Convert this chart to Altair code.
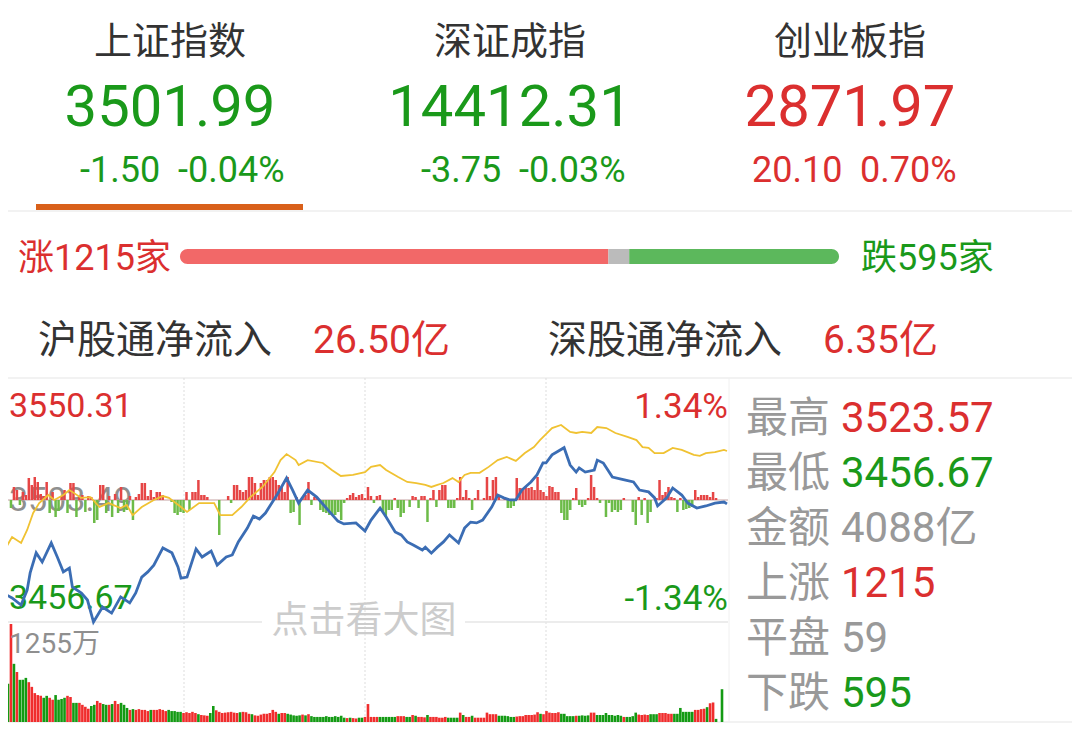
import altair as alt
import pandas as pd

# ---------------- data ----------------
index_names = ["上证指数", "深证成指", "创业板指"]
index_values = ["3501.99", "14412.31", "2871.97"]
index_changes = ["-1.50", "-3.75", "20.10"]
index_pcts = ["-0.04%", "-0.03%", "0.70%"]

breadth_labels = ["涨", "平", "跌"]
breadth_counts = [1215, 59, 595]

hk_labels = ["沪股通净流入", "深股通净流入"]
hk_values = ["26.50亿", "6.35亿"]

prev_close = 3503.49
price_top = 3550.31
price_bottom = 3456.67

price_minutes = [0, 3, 6, 8, 9, 11, 13, 16, 18, 20, 22, 23, 26, 28, 30, 33, 36, 39, 42, 44,
                 46, 48, 50, 53, 56, 58, 59, 61, 64, 66, 69, 71, 74, 76, 78, 81, 83, 85, 87, 91,
                 94, 96, 98, 101, 104, 108, 111, 113, 117, 120, 122, 125, 127, 130, 132, 134, 136, 139, 140, 142,
                 144, 146, 148, 151, 153, 155, 157, 159, 162, 164, 166, 168, 170, 172, 175, 177, 179, 180, 182, 186,
                 188, 190, 191, 193, 196, 197, 199, 202, 206, 209, 211, 214, 216, 217, 220, 222, 225, 227, 230, 233,
                 236, 239, 240]
price_values = [3467.8, 3465.9, 3463.2, 3468.9, 3475.5, 3483.2, 3479.7, 3487.0, 3481.6, 3475.9,
                3477.4, 3470.1, 3467.8, 3465.1, 3456.67, 3462.4, 3460.1, 3466.3, 3464.0, 3467.8,
                3473.9, 3475.9, 3478.5, 3485.1, 3483.2, 3477.8, 3473.5, 3473.9, 3484.7, 3481.6,
                3483.9, 3478.5, 3481.6, 3482.4, 3487.4, 3492.7, 3497.3, 3496.2, 3498.5, 3505.8,
                3511.9, 3507.3, 3502.3, 3507.3, 3504.6, 3499.3, 3495.4, 3494.3, 3494.7, 3491.6,
                3495.8, 3500.4, 3497.0, 3491.2, 3490.1, 3487.4, 3486.2, 3484.3, 3485.4, 3483.1,
                3485.4, 3487.4, 3490.1, 3487.0, 3492.7, 3495.0, 3494.7, 3495.8, 3500.8, 3505.4,
                3504.3, 3503.5, 3503.5, 3507.3, 3510.4, 3513.1, 3517.7, 3517.7, 3520.8, 3523.57,
                3516.9, 3514.2, 3515.8, 3514.2, 3515.0, 3518.8, 3517.7, 3512.3, 3511.2, 3510.4,
                3507.3, 3506.6, 3504.3, 3501.2, 3504.3, 3508.1, 3505.4, 3502.3, 3500.4, 3501.2,
                3502.3, 3502.7, 3501.99]

avg_minutes = [0, 3, 6, 8, 10, 12, 15, 17, 20, 22, 26, 29, 32, 35, 39, 41, 43, 46, 50, 53,
               55, 59, 61, 65, 70, 72, 76, 79, 82, 86, 90, 92, 94, 97, 98, 101, 106, 109, 112, 116,
               120, 122, 125, 127, 131, 134, 137, 140, 142, 144, 146, 149, 151, 153, 155, 158, 161, 164, 167, 170,
               173, 176, 178, 180, 182, 185, 188, 190, 192, 195, 197, 200, 203, 207, 210, 212, 214, 216, 219, 222,
               225, 229, 231, 233, 236, 239, 240]
avg_values = [3483.2, 3489.3, 3487.0, 3492.0, 3498.5, 3502.3, 3505.4, 3503.5, 3505.4, 3507.3,
              3504.3, 3504.6, 3500.8, 3502.3, 3500.4, 3501.6, 3497.7, 3500.8, 3503.5, 3505.0,
              3504.3, 3500.8, 3498.9, 3502.3, 3502.3, 3497.7, 3497.7, 3500.8, 3504.6, 3508.5,
              3514.2, 3518.8, 3521.1, 3518.8, 3516.9, 3518.8, 3517.7, 3515.0, 3512.7, 3513.1,
              3514.2, 3516.2, 3516.9, 3515.0, 3512.3, 3510.4, 3510.0, 3509.3, 3508.5, 3509.3,
              3510.0, 3511.9, 3510.4, 3513.1, 3513.9, 3513.9, 3516.2, 3518.8, 3520.0, 3518.5,
              3521.5, 3523.8, 3526.5, 3528.8, 3531.1, 3532.3, 3529.6, 3529.2, 3529.6, 3529.2,
              3531.5, 3531.1, 3529.2, 3527.7, 3526.5, 3523.8, 3523.5, 3521.5, 3521.5, 3523.5,
              3522.7, 3520.8, 3520.4, 3521.5, 3521.9, 3522.7, 3522.3]

flow_values = [0, -8, 13, 10, -5, 8, 5, 22, 15, 23, 18, 6, 4, 18, -13, 8, -17, -11, 4, 10,
               -13, 17, 17, -17, 3, 5, -12, 4, 3, -23, -20, 15, 15, -13, 4, -17, 6, -13, 13, -12,
               -10, 4, -20, 3, 6, 17, 17, 4, 10, 3, 8, 8, 5, 0, 0, -2, -13, -15, -12, -13,
               8, -10, 8, 8, 20, 5, 5, 3, 0, 0, 0, -35, 0, 0, 4, -3, 15, 15, 10, 8,
               10, 23, 23, 17, 5, 17, 20, 20, 23, 23, 20, 15, 13, 8, 23, -13, -12, 3, -25, 3,
               5, 18, -5, 3, 2, -10, -12, -13, -15, -15, -15, -12, -20, -3, 2, 5, 7, 3, 5, 6,
               2, 13, 4, -3, 4, 5, -12, -17, -10, -10, 2, -8, -17, -13, 0, -7, 4, 3, -8, 4,
               4, -22, 2, 10, -7, 10, 15, 15, -8, -8, -8, 2, 23, 3, 10, 2, -10, 2, 10, 0,
               2, 23, 4, 20, 23, 3, 0, 2, -8, -8, -6, 22, 12, 12, 13, 12, 13, 10, 23, 10,
               8, 4, 14, 13, 8, 8, -13, -20, -20, -10, 2, 12, -5, -7, -5, 2, 25, 13, 2, -3,
               0, -17, -3, -12, -10, -12, -10, 2, 0, 0, -12, -25, 3, -15, 2, -23, -12, 0, 2, 20,
               5, 8, 13, 3, 2, -12, 2, -10, -9, -8, -7, 10, 3, 5, 5, 5, 3, 8, 2, 0,
               0]

volume_values = [490, 1255, 745, 640, 540, 540, 565, 510, 450, 370, 345, 335, 310, 335, 310, 285, 345, 285, 295, 310,
                 335, 320, 245, 245, 245, 220, 195, 170, 205, 220, 270, 245, 230, 220, 220, 230, 270, 230, 245, 220,
                 180, 155, 165, 155, 165, 155, 155, 140, 155, 155, 155, 165, 155, 140, 155, 140, 140, 130, 130, 115,
                 125, 115, 130, 115, 100, 90, 85, 80, 115, 205, 150, 130, 115, 120, 125, 130, 120, 115, 125, 130,
                 125, 105, 100, 85, 80, 95, 105, 105, 115, 155, 130, 105, 115, 115, 105, 95, 85, 80, 85, 95,
                 85, 100, 75, 65, 65, 65, 65, 75, 65, 65, 75, 65, 80, 55, 50, 55, 50, 45, 55, 55,
                 65, 230, 65, 65, 65, 65, 65, 65, 65, 65, 65, 75, 75, 75, 65, 65, 90, 80, 65, 65,
                 60, 90, 65, 65, 65, 55, 55, 65, 55, 55, 55, 55, 120, 90, 65, 65, 80, 55, 55, 55,
                 55, 120, 100, 100, 100, 80, 80, 80, 75, 65, 65, 70, 75, 75, 90, 90, 90, 95, 125, 105,
                 100, 140, 120, 115, 115, 125, 105, 105, 75, 75, 75, 80, 80, 85, 80, 85, 120, 120, 90, 90,
                 90, 115, 90, 90, 80, 90, 80, 65, 65, 65, 75, 120, 95, 90, 95, 90, 100, 100, 100, 115,
                 115, 115, 105, 105, 105, 105, 180, 130, 130, 130, 130, 155, 155, 165, 170, 190, 240, 250, 40, 0,
                 420]
volume_up = [0, 1, 0, 1, 0, 0, 0, 1, 1, 1, 1, 1, 0, 0, 1, 1, 0, 0, 0, 0,
             1, 1, 0, 0, 1, 1, 1, 1, 0, 0, 1, 1, 0, 0, 1, 0, 1, 1, 0, 0,
             0, 1, 0, 1, 1, 1, 1, 1, 0, 1, 1, 1, 1, 1, 0, 0, 0, 0, 0, 1,
             1, 1, 1, 1, 0, 1, 1, 1, 0, 0, 1, 1, 1, 1, 1, 1, 1, 1, 0, 1,
             1, 1, 0, 1, 1, 1, 1, 1, 1, 1, 1, 0, 1, 1, 0, 0, 0, 0, 0, 1,
             0, 1, 0, 0, 0, 0, 0, 0, 0, 0, 0, 0, 0, 0, 1, 0, 1, 1, 0, 0,
             1, 1, 1, 1, 1, 0, 0, 0, 0, 0, 0, 1, 1, 1, 0, 0, 1, 0, 1, 1,
             1, 0, 1, 1, 1, 1, 1, 1, 0, 0, 0, 0, 1, 0, 1, 1, 0, 1, 1, 1,
             1, 1, 1, 1, 1, 0, 0, 0, 0, 0, 0, 1, 1, 1, 1, 1, 1, 1, 1, 0,
             1, 1, 1, 1, 1, 1, 0, 0, 0, 0, 0, 1, 0, 0, 0, 0, 1, 1, 0, 0,
             0, 0, 0, 0, 0, 0, 0, 1, 0, 0, 0, 0, 1, 1, 1, 1, 0, 0, 0, 1,
             1, 1, 1, 1, 0, 0, 0, 0, 0, 0, 0, 1, 1, 1, 1, 0, 1, 1, 0, 0,
             0]
volume_max_label = "1255万"
grid_minutes = [60, 120, 180]

stat_labels = ["最高", "最低", "金额", "上涨", "平盘", "下跌"]
stat_values = ["3523.57", "3456.67", "4088亿", "1215", "59", "595"]

# ---------------- styles ----------------
FONT = "Roboto, 'Noto Sans CJK SC', sans-serif"
RED = "#db2f2f"
GREEN = "#1a991a"
GRAY = "#999999"
DARK = "#333333"
ONE = pd.DataFrame({"k": [0]})


def label(text, x, y, size, color, align="left"):
    return alt.Chart(pd.DataFrame({"t": [text]})).mark_text(
        align=align, baseline="middle", fontSize=size, color=color, font=FONT
    ).encode(x=alt.value(x - 8), y=alt.value(y - 8), text="t:N")


def hline(x1, x2, y, color, width=1):
    return alt.Chart(ONE).mark_rule(color=color, strokeWidth=width).encode(
        x=alt.value(x1 - 8), x2=alt.value(x2 - 8), y=alt.value(y - 8))


def vline(x, y1, y2, color, width=1):
    return alt.Chart(ONE).mark_rule(color=color, strokeWidth=width).encode(
        x=alt.value(x - 8), y=alt.value(y1 - 8), y2=alt.value(y2 - 8))


layers = []

# header
centers = [170, 510, 850]
chg_left = [80, 421, 752]
pct_left = [178, 519, 860]
for i in range(3):
    col = GREEN if index_changes[i].startswith("-") else RED
    layers.append(label(index_names[i], centers[i], 43, 38, DARK, "center"))
    layers.append(label(index_values[i], centers[i], 109, 58, col, "center"))
    layers.append(label(index_changes[i], chg_left[i], 171, 36, col))
    layers.append(label(index_pcts[i], pct_left[i], 171, 36, col))

layers.append(alt.Chart(ONE).mark_rect(color="#d9601a").encode(
    x=alt.value(36 - 8), x2=alt.value(303 - 8), y=alt.value(204 - 8), y2=alt.value(210 - 8)))
layers.append(hline(0, 1080, 211, "#eeeeee", 1.5))

# advance / decline bar
bdf = pd.DataFrame({"cat": breadth_labels, "n": breadth_counts})
bdf["start"] = bdf["n"].cumsum() - bdf["n"]
bdf["end"] = bdf["n"].cumsum()
BX = alt.Scale(domain=[0, sum(breadth_counts)], range=[180 - 8, 839 - 8], nice=False, zero=False)
seg_colors = ["#f26868", "#bbbbbb", "#5cb85c"]
for i, cat in enumerate(breadth_labels):
    kw = {}
    if i == 0:
        kw = dict(cornerRadiusTopLeft=7.5, cornerRadiusBottomLeft=7.5)
    elif i == 2:
        kw = dict(cornerRadiusTopRight=7.5, cornerRadiusBottomRight=7.5)
    layers.append(alt.Chart(bdf[bdf["cat"] == cat]).mark_bar(color=seg_colors[i], **kw).encode(
        x=alt.X("start:Q", scale=BX, axis=None), x2="end:Q",
        y=alt.value(249 - 8), y2=alt.value(264 - 8)))
layers.append(label(f"涨{breadth_counts[0]}家", 18, 259, 36, RED))
layers.append(label(f"跌{breadth_counts[2]}家", 861, 259, 36, GREEN))

# HK connect flows
layers.append(label(hk_labels[0], 38, 341, 39, DARK))
layers.append(label(hk_values[0], 313, 341, 39, RED))
layers.append(label(hk_labels[1], 548, 341, 39, DARK))
layers.append(label(hk_values[1], 823, 341, 39, RED))
layers.append(hline(0, 1080, 378, "#eeeeee", 1.5))

# intraday chart scales
XS = alt.Scale(domain=[0, 240], range=[-5, 719], nice=False, zero=False)
PY = alt.Scale(domain=[price_bottom, price_top], range=[614, 370], nice=False, zero=False)
FY = alt.Scale(domain=[-40, 40], range=[532, 452], nice=False, zero=False)
VY = alt.Scale(domain=[0, 1255], range=[714, 616], nice=False, zero=False)

layers.append(alt.Chart(pd.DataFrame({"m": grid_minutes})).mark_rule(
    color="#dddddd", strokeDash=[2, 2]).encode(
    x=alt.X("m:Q", scale=XS, axis=None), y=alt.value(370), y2=alt.value(714)))
layers.append(hline(0, 262, 622, "#e6e6e6", 1.5))
layers.append(hline(465, 728, 622, "#e6e6e6", 1.5))
layers.append(hline(0, 1080, 722, "#eeeeee", 1.5))
layers.append(vline(729, 378, 722, "#f0f0f0", 1))

layers.append(label(f"{price_top:.2f}", 9, 407, 34, RED))
layers.append(label(f"{prev_close:.2f}", 9, 501, 34, "#8f8f8f"))
layers.append(label(f"{price_bottom:.2f}", 9, 599, 34, GREEN))
layers.append(label("1.34%", 728, 407, 35, RED, "right"))
layers.append(label("-1.34%", 728, 599, 35, GREEN, "right"))

layers.append(alt.Chart(pd.DataFrame({"p": [prev_close]})).mark_rule(
    color="#c4a0a0", strokeWidth=1).encode(
    y=alt.Y("p:Q", scale=PY, axis=None), x=alt.value(0), x2=alt.value(720)))

fdf = pd.DataFrame({"m": list(range(len(flow_values))), "v": flow_values})
fdf = fdf[fdf["v"] != 0]
layers.append(alt.Chart(fdf).mark_bar(width=2.5).encode(
    x=alt.X("m:Q", scale=XS, axis=None),
    y=alt.Y("v:Q", scale=FY, axis=None), y2=alt.datum(0),
    color=alt.condition(alt.datum.v > 0, alt.value("#e64545"), alt.value("#6cbb48"))))

adf = pd.DataFrame({"m": avg_minutes, "p": avg_values})
layers.append(alt.Chart(adf).mark_line(color="#f0c232", strokeWidth=1.8).encode(
    x=alt.X("m:Q", scale=XS, axis=None), y=alt.Y("p:Q", scale=PY, axis=None)))
pdf = pd.DataFrame({"m": price_minutes, "p": price_values})
layers.append(alt.Chart(pdf).mark_line(color="#3b6db4", strokeWidth=2.8).encode(
    x=alt.X("m:Q", scale=XS, axis=None), y=alt.Y("p:Q", scale=PY, axis=None)))

vdf = pd.DataFrame({"m": list(range(len(volume_values))), "vol": volume_values, "up": volume_up})
vdf = vdf[vdf["vol"] > 0]
layers.append(alt.Chart(vdf).mark_bar(width=2.6).encode(
    x=alt.X("m:Q", scale=XS, axis=None),
    y=alt.Y("vol:Q", scale=VY, axis=None), y2=alt.datum(0),
    color=alt.condition(alt.datum.up == 1, alt.value("#f02d2d"), alt.value("#139a13"))))

layers.append(label(volume_max_label, 9, 645, 28, "#8f8f8f"))
layers.append(label("点击看大图", 364, 622, 37, "#cccccc", "center"))

# right stats panel
row_y = [419, 474, 529, 584, 639, 694]
val_colors = [RED, GREEN, GRAY, RED, GRAY, GREEN]
for i in range(6):
    layers.append(label(stat_labels[i], 746, row_y[i], 42, GRAY))
    layers.append(label(stat_values[i], 841, row_y[i], 42, val_colors[i]))

chart = alt.layer(*layers).resolve_scale(
    x="independent", y="independent", color="independent"
).properties(
    width=1064, height=727, padding=0,
    autosize=alt.AutoSizeParams(type="none"), background="white"
).configure_view(strokeWidth=0)

chart.save("out.html", embed_options={"renderer": "svg", "actions": False})
